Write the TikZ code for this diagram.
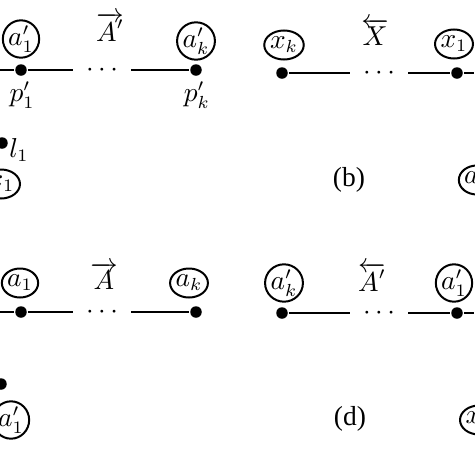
\documentclass[tikz,border=0pt]{standalone}
\usepackage{fontspec}
\setmainfont{Liberation Serif}
\usetikzlibrary{shapes.geometric}

\begin{document}
\begin{tikzpicture}[x=0.4pt,y=-0.4pt,line width=0.8pt,font=\fontsize{10.5}{12}\selectfont]
    \tikzstyle{vertex}=[circle, fill, inner sep=0pt, minimum size=4.6pt]
    \tikzstyle{tag}=[ellipse, draw, inner sep=0pt, minimum width=13.4pt, minimum height=11.6pt]
    \tikzstyle{gap}=[inner sep=0pt, minimum width=22.4pt, minimum height=4pt]
    \tikzstyle{caption}=[font=\fontsize{11}{13}\selectfont]
    \useasboundingbox (0,0) rectangle (474,474);

    % (a)
    \coordinate (aL) at (0, 70);
    \node [vertex] (ap1) at (21, 70) {};
    \node [gap] (aG) at (102, 70) {$\cdots$};
    \node [vertex] (apk) at (196, 70) {};
    \node [tag] (aa1) at (21, 39) {$a'_1$};
    \node [tag] (aak) at (196, 41) {$a'_k$};
    \node (aA) at (110, 27) {$\overrightarrow{A'}$};
    \node (lp1) at (22, 95) {$p'_1$};
    \node (lpk) at (197, 95) {$p'_k$};
    \node [vertex] (al1) at (2, 143) {};
    \node (ll1) at (19, 150) {$l_1$};
    \node [tag] (ax1) at (1, 184) {$x_1$};
    \draw (aL) -- (ap1) -- (aG);
    \draw (aG) -- (apk);

    % (b)
    \coordinate (bR) at (474, 73);
    \node [vertex] (bpk) at (282, 73) {};
    \node [gap] (bG) at (379, 73) {$\cdots$};
    \node [vertex] (bp1) at (457, 73) {};
    \node [tag] (bxk) at (284, 45) {$x_k$};
    \node [tag] (bx1) at (454, 44) {$x_1$};
    \node (bX) at (375, 32) {$\overleftarrow{X}$};
    \node [caption] (bcap) at (349, 180) {(b)};
    \node [tag] (ba1) at (477, 180) {$a_1$};
    \draw (bpk) -- (bG);
    \draw (bG) -- (bp1) -- (bR);

    % (c)
    \coordinate (cL) at (0, 312);
    \node [vertex] (cp1) at (21, 312) {};
    \node [gap] (cG) at (102, 312) {$\cdots$};
    \node [vertex] (cpk) at (196, 312) {};
    \node [tag] (ca1) at (20, 283) {$a_1$};
    \node [tag] (cak) at (189, 283) {$a_k$};
    \node (cA) at (104, 276) {$\overrightarrow{A}$};
    \node [vertex] (cl1) at (1, 384) {};
    \node [tag] (cb1) at (11, 420) {$a'_1$};
    \draw (cL) -- (cp1) -- (cG);
    \draw (cG) -- (cpk);

    % (d)
    \coordinate (dR) at (474, 313);
    \node [vertex] (dpk) at (282, 313) {};
    \node [gap] (dG) at (379, 313) {$\cdots$};
    \node [vertex] (dp1) at (457, 313) {};
    \node [tag] (dak) at (284, 283) {$a'_k$};
    \node [tag] (da1) at (454, 283) {$a'_1$};
    \node (dA) at (372, 277) {$\overleftarrow{A'}$};
    \node [caption] (dcap) at (350, 419) {(d)};
    \node [tag] (dx1) at (479, 420) {$x_1$};
    \draw (dpk) -- (dG);
    \draw (dG) -- (dp1) -- (dR);
\end{tikzpicture}
\end{document}
